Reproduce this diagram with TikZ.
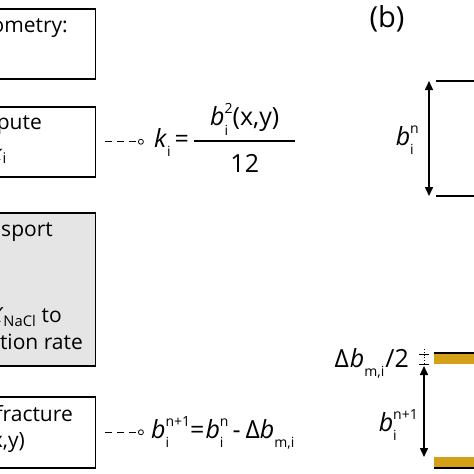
\documentclass[tikz,border=0pt]{standalone}
\usepackage{fontspec}
\setmainfont{Open Sans}
\usetikzlibrary{arrows.meta}
\usetikzlibrary{positioning}
\definecolor{plategold}{RGB}{212,160,23}
\newcommand\boxfont{\fontsize{21}{24}\selectfont}
\newcommand\eqfont{\fontsize{25}{28}\selectfont}
\newcommand\scfont{\fontsize{14}{16}\selectfont}
\newcommand\supsub[2]{\ooalign{\raisebox{.47em}{\scfont #1}\cr\raisebox{-.38em}{\scfont #2}\cr}}
\tikzset{stepbox/.style={draw, line width=1.5pt, anchor=north east, minimum width=300pt},
         boxtext/.style={anchor=base east, inner sep=0pt, font=\boxfont},
         eq/.style={anchor=base west, inner sep=0pt, font=\eqfont},
         link/.style={line width=1.3pt, dash pattern=on 7pt off 5pt, shorten <=9pt},
         tip/.style={circle, draw, line width=0.8pt, inner sep=0pt, minimum size=5pt},
         gap/.style={{Triangle[width=8pt,length=9pt]}-{Triangle[width=8pt,length=9pt]}, line width=1.5pt},
         wall/.style={line width=1.6pt}}

\begin{document}
\begin{tikzpicture}[x=1pt, y=-1pt]
    \useasboundingbox (0,0) rectangle (474,474);
    % (a) steps, cut at the left edge
    \node[stepbox, minimum height=70pt] (geom) at (96,8) {};
    \node[stepbox, minimum height=70pt] (perm) at (96,106) {};
    \node[stepbox, minimum height=153pt, fill=black!10] (trans) at (96,212) {};
    \node[stepbox, minimum height=71pt] (upd) at (96,396) {};
    \node[boxtext] (geomA) at (68,32) {Initial geometry:};
    \node[boxtext] (permA) at (42,129) {Compute};
    \node[boxtext] (permB) at (7,160) {permeability \textit{k}\textsubscript{i}};
    \node[boxtext] (transA) at (53,236) {Reactive transport};
    \node[boxtext] (transB) at (62,322) {Convert \textit{X}\textsubscript{NaCl} to};
    \node[boxtext] (transC) at (83,349) {dissolution rate};
    \node[boxtext] (updA) at (73,421) {Update fracture};
    \node[boxtext] (updB) at (25,447) {aperture \textit{b}(x,y)};
    % links to the equations
    \node[tip, right=42pt of perm.east] (kdot) {};
    \draw[link] (perm) -- (kdot);
    \node[eq] (keq) at (154,147) {\textit{k}\supsub{}{i}\kern4pt=\kern4pt$\displaystyle{\mbox{\kern16pt\textit{b}\supsub{2}{i}(x,y)\kern16pt}\above1.6pt\mbox{\rule{0pt}{1.05em}12}}$};
    \node[tip, right=42pt of upd.east] (bdot) {};
    \draw[link] (upd) -- (bdot);
    \node[eq] (beq) at (151,438) {\textit{b}\supsub{n+1}{i}=\kern1pt\textit{b}\supsub{n}{i}\kern4pt-\kern5ptΔ\textit{b}\supsub{}{m,i}};
    % (b) aperture before and after
    \node[font=\fontsize{29}{32}\selectfont] (panelb) at (387,19) {(b)};
    \draw[wall] (436,81) -- (480,81);
    \draw[wall] (436,196) -- (480,196);
    \draw[gap] (429,81) -- (429,196);
    \node[eq, anchor=base east] (bn) at (419,145) {\textit{b}\supsub{n}{i}};
    \fill[plategold] (434,353) rectangle (480,364);
    \fill[plategold] (434,457) rectangle (480,468);
    \draw[wall] (434,353) -- (480,353);
    \draw[wall] (434,468) -- (480,468);
    \draw[line width=1pt] (419,354) -- (429,354) (419,364) -- (429,364);
    \draw[line width=0.8pt, dotted] (424,349) -- (424,365);
    \draw[gap] (424,366) -- (424,457);
    \node[eq, anchor=base east] (dbm) at (409,367) {Δ\kern1pt\textit{b}\supsub{}{m,i}\kern1pt/2};
    \node[eq, anchor=base east] (bn1) at (418,431) {\textit{b}\supsub{n+1}{i}};
\end{tikzpicture}
\end{document}
